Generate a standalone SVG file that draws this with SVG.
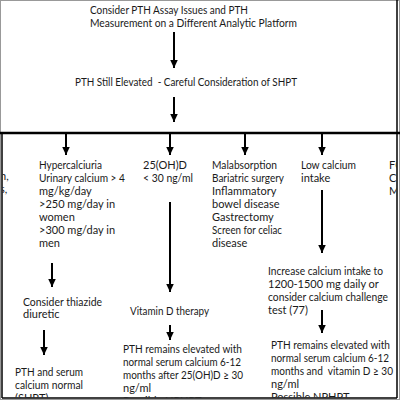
<svg xmlns="http://www.w3.org/2000/svg" width="400" height="400" viewBox="0 0 400 400">
<defs>
<marker id="ah" markerUnits="userSpaceOnUse" markerWidth="9" markerHeight="8" refX="8.5" refY="4" orient="auto"><path d="M0,0 L8.5,4 L0,8 z" fill="#000"/></marker>
<clipPath id="inner"><rect x="2.5" y="0" width="394" height="397.5"/></clipPath>
</defs>
<style>
text{font-family:Lato,"Liberation Sans",Arial,sans-serif;font-size:11px;fill:#1a1a1a}
.ar{stroke:#000;stroke-width:2;fill:none;marker-end:url(#ah)}
</style>
<rect x="0" y="0" width="400" height="400" fill="#fff"/>
<rect x="0.5" y="0.5" width="399" height="399" fill="none" stroke="#999" stroke-width="1"/>
<g id="frame" stroke="#000" fill="none">
<line x1="0" y1="133" x2="400" y2="133" stroke-width="2.5"/>
<line x1="2" y1="133" x2="2" y2="398" stroke-width="1.5"/>
<line x1="397" y1="0" x2="397" y2="398" stroke-width="1.5"/>
<line x1="2" y1="398" x2="397" y2="398" stroke-width="1.5"/>
</g>
<g id="connectors">
<line class="ar" x1="174" y1="32" x2="174" y2="68"/>
<line class="ar" x1="174" y1="97" x2="174" y2="122"/>
<line class="ar" x1="66" y1="134" x2="66" y2="155"/>
<line class="ar" x1="170" y1="134" x2="170" y2="155"/>
<line class="ar" x1="245" y1="134" x2="245" y2="155"/>
<line class="ar" x1="322" y1="134" x2="322" y2="155"/>
<line class="ar" x1="52" y1="263" x2="52" y2="287"/>
<line class="ar" x1="44" y1="330" x2="44" y2="355"/>
<line class="ar" x1="170" y1="202" x2="170" y2="292"/>
<line class="ar" x1="170" y1="325" x2="170" y2="340"/>
<line class="ar" x1="322" y1="190" x2="322" y2="253"/>
<line class="ar" x1="322" y1="310" x2="322" y2="333"/>
</g>
<g clip-path="url(#inner)">
<g id="n-assay">
<text x="90" y="14" textLength="158" lengthAdjust="spacingAndGlyphs">Consider PTH Assay Issues and PTH</text>
<text x="90" y="27" textLength="207" lengthAdjust="spacingAndGlyphs">Measurement on a Different Analytic Platform</text>
</g>
<g id="n-elevated">
<text x="75" y="86" textLength="222" lengthAdjust="spacingAndGlyphs" xml:space="preserve">PTH Still Elevated  - Careful Consideration of SHPT</text>
</g>
<g id="n-left">
<text x="0" y="180">n,</text>
<text x="0" y="193">s,</text>
<text x="0" y="220">.</text>
</g>
<g id="n-hypercalciuria">
<text x="39" y="169" textLength="63" lengthAdjust="spacingAndGlyphs">Hypercalciuria</text>
<text x="39" y="182" textLength="86" lengthAdjust="spacingAndGlyphs">Urinary calcium &gt; 4</text>
<text x="39" y="195">mg/kg/day</text>
<text x="39" y="208">&gt;250 mg/day in</text>
<text x="39" y="221">women</text>
<text x="39" y="234">&gt;300 mg/day in</text>
<text x="39" y="247">men</text>
</g>
<g id="n-vitd">
<text x="143" y="169">25(OH)D</text>
<text x="143" y="182" textLength="50" lengthAdjust="spacingAndGlyphs">&lt; 30 ng/ml</text>
</g>
<g id="n-malabsorption">
<text x="212" y="169" textLength="65" lengthAdjust="spacingAndGlyphs">Malabsorption</text>
<text x="212" y="182" textLength="72" lengthAdjust="spacingAndGlyphs">Bariatric surgery</text>
<text x="212" y="195">Inflammatory</text>
<text x="212" y="208">bowel disease</text>
<text x="212" y="221">Gastrectomy</text>
<text x="212" y="234" textLength="70" lengthAdjust="spacingAndGlyphs">Screen for celiac</text>
<text x="212" y="247">disease</text>
</g>
<g id="n-lowcalcium">
<text x="301" y="169" textLength="55" lengthAdjust="spacingAndGlyphs">Low calcium</text>
<text x="301" y="182">intake</text>
</g>
<g id="n-right">
<text x="389" y="169">FC</text>
<text x="389" y="182">Cl</text>
<text x="389" y="195">M</text>
</g>
<g id="n-thiazide">
<text x="23" y="306" textLength="79" lengthAdjust="spacingAndGlyphs">Consider thiazide</text>
<text x="23" y="318">diuretic</text>
</g>
<g id="n-normal">
<text x="15" y="376" textLength="68" lengthAdjust="spacingAndGlyphs">PTH and serum</text>
<text x="15" y="389" textLength="68" lengthAdjust="spacingAndGlyphs">calcium normal</text>
<text x="15" y="402">(SHPT)</text>
</g>
<g id="n-therapy">
<text x="130" y="315" textLength="79" lengthAdjust="spacingAndGlyphs">Vitamin D therapy</text>
</g>
<g id="n-remains1">
<text x="123" y="353" textLength="119" lengthAdjust="spacingAndGlyphs">PTH remains elevated with</text>
<text x="123" y="366" textLength="118" lengthAdjust="spacingAndGlyphs">normal serum calcium 6-12</text>
<text x="123" y="379" textLength="120" lengthAdjust="spacingAndGlyphs">months after 25(OH)D ≥ 30</text>
<text x="123" y="392">ng/ml</text>
<text x="123" y="405">Possible NPHPT</text>
</g>
<g id="n-increase">
<text x="268" y="275" textLength="115" lengthAdjust="spacingAndGlyphs">Increase calcium intake to</text>
<text x="268" y="288">1200-1500 mg daily or</text>
<text x="268" y="301" textLength="120" lengthAdjust="spacingAndGlyphs">consider calcium challenge</text>
<text x="268" y="314">test (77)</text>
</g>
<g id="n-remains2">
<text x="271" y="349" textLength="119" lengthAdjust="spacingAndGlyphs">PTH remains elevated with</text>
<text x="271" y="362" textLength="118" lengthAdjust="spacingAndGlyphs">normal serum calcium 6-12</text>
<text x="271" y="375" textLength="122" lengthAdjust="spacingAndGlyphs" xml:space="preserve">months and  vitamin D ≥ 30</text>
<text x="271" y="388">ng/ml</text>
<text x="271" y="401">Possible NPHPT</text>
</g>
</g>
</svg>
